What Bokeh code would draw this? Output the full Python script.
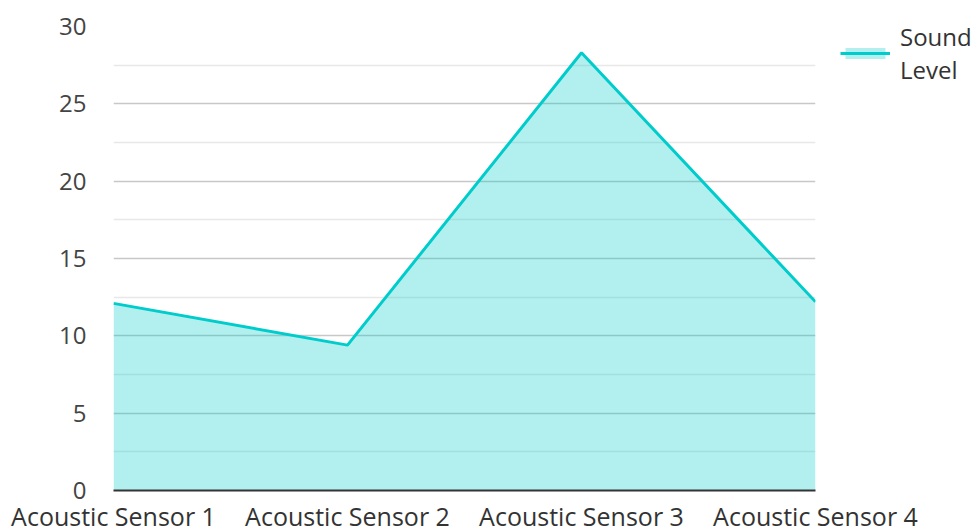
from bokeh.plotting import figure
from bokeh.models import (FixedTicker, Legend, LegendItem, Range1d, ColumnDataSource)
from bokeh.embed import file_html
from bokeh.resources import INLINE

categories = ["Acoustic Sensor 1", "Acoustic Sensor 2", "Acoustic Sensor 3", "Acoustic Sensor 4"]
sound_level = [12.1, 9.4, 28.3, 12.2]
y_ticks = [0, 5, 10, 15, 20, 25, 30]
series_name = "Sound\nLevel"

LINE = "#00CCCC"
FONT = "Open Sans"

xs = list(range(len(categories)))
src = ColumnDataSource(dict(x=xs, y=sound_level, y0=[0] * len(xs)))

p = figure(frame_width=702, frame_height=464, output_backend="svg", toolbar_location=None,
           x_range=Range1d(0, len(categories) - 1), y_range=Range1d(0, 30),
           min_border_left=113, min_border_right=0, min_border_top=26,
           min_border_bottom=0)
p.outline_line_color = None
p.background_fill_color = "white"

area = p.varea(x="x", y1="y0", y2="y", source=src, fill_color=LINE, fill_alpha=0.3)
line = p.line(x="x", y="y", source=src, line_color=LINE, line_width=3)

# axes
p.xaxis.ticker = FixedTicker(ticks=xs)
p.xaxis.major_label_overrides = {i: c for i, c in enumerate(categories)}
p.xaxis.major_tick_line_color = None
p.xaxis.minor_tick_line_color = None
p.xaxis.axis_line_color = "#333333"
p.xaxis.axis_line_width = 2
p.xaxis.major_label_text_font = FONT
p.xaxis.major_label_text_font_size = "25px"
p.xaxis.major_label_text_color = "#333333"
p.xaxis.major_label_standoff = 2

p.yaxis.ticker = FixedTicker(ticks=y_ticks, minor_ticks=[2.5 + 5 * i for i in range(6)])
p.yaxis.axis_line_color = None
p.yaxis.major_tick_line_color = None
p.yaxis.minor_tick_line_color = None
p.yaxis.major_label_text_font = FONT
p.yaxis.major_label_text_font_size = "24px"
p.yaxis.major_label_text_color = "#444444"
p.yaxis.major_label_standoff = 21

p.xgrid.grid_line_color = None
p.ygrid.grid_line_color = "#c8c8c8"
p.ygrid.grid_line_width = 1.5
p.ygrid.minor_grid_line_color = "#e8e8e8"
p.ygrid.minor_grid_line_width = 1.5

legend = Legend(items=[LegendItem(label=series_name, renderers=[area, line])],
                location=(25, 404), border_line_color=None,
                background_fill_alpha=0,
                label_text_font=FONT, label_text_font_size="24px",
                label_text_color="#333333",
                glyph_width=50, glyph_height=14, margin=0, padding=0,
                label_standoff=10)
p.add_layout(legend, "right")

open("out.html", "w").write(file_html(p, INLINE))
